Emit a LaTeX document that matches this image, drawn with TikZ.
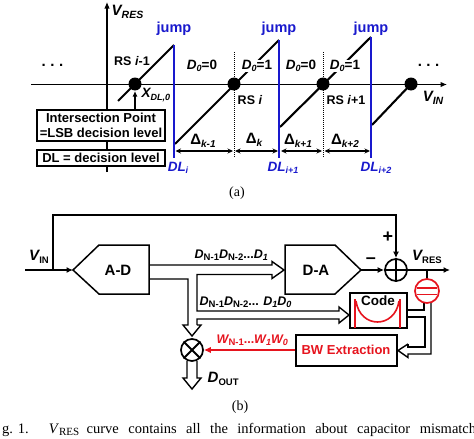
\documentclass[tikz,border=0pt]{standalone}
\usepackage{fontspec}
\setmainfont{Liberation Sans}
\newfontfamily\capfont{Liberation Serif}
\usetikzlibrary{arrows.meta,calc}
\definecolor{myblue}{RGB}{25,25,205}
\definecolor{myred}{RGB}{230,20,30}
\newcommand{\lab}[2]{{\bfseries\itshape #1\raisebox{-.35ex}{\fontsize{9}{9}\selectfont #2}}}
\newcommand{\labb}[2]{{\bfseries\itshape #1\raisebox{-.35ex}{\fontsize{10.5}{9}\selectfont #2}}}
\newcommand{\labu}[2]{{\bfseries\itshape #1\raisebox{-.35ex}{\fontsize{9.5}{9}\selectfont\upshape #2}}}
\newcommand{\dotsrow}{.\hspace{4.5pt}.\hspace{4.5pt}.}
\newcommand{\dlt}[1]{Δ\raisebox{-.35ex}{\fontsize{10}{9}\selectfont\itshape #1}}
\tikzset{
  x=1pt,y=-1pt,
  txt/.style={inner sep=0.5pt,font=\fontsize{12.5}{14}\selectfont\bfseries},
  biglab/.style={inner sep=0.5pt,font=\fontsize{15}{15}\selectfont\bfseries},
  jumplab/.style={inner sep=0.5pt,text=myblue,font=\fontsize{14.5}{15}\selectfont\bfseries},
  dllab/.style={inner sep=0.5pt,text=myblue,font=\fontsize{13.5}{14}\selectfont\bfseries},
  dzero/.style={inner sep=0.5pt,fill=white,font=\fontsize{13.5}{14}\selectfont\bfseries},
  axisline/.style={line width=1.1pt,-{Latex[length=6.5pt,width=5.5pt]}},
  ramp/.style={line width=2.1pt},
  bluev/.style={line width=1.5pt,myblue},
  dotv/.style={line width=1pt,densely dotted},
  dim/.style={line width=1.1pt,{Stealth[length=5.5pt,width=5pt]}-{Stealth[length=5.5pt,width=5pt]}},
  isect/.style={circle,fill=black,minimum size=13pt,inner sep=0pt},
  infobox/.style={draw,line width=1.5pt,fill=white,inner sep=0pt,font=\fontsize{13}{15.5}\selectfont\bfseries,align=center},
  blockline/.style={line width=1.5pt},
  wire/.style={line width=1.4pt},
  wirearrow/.style={line width=1.4pt,-{Latex[length=6.5pt,width=6pt]}},
  hollow/.style={line width=1.4pt,fill=none,line join=miter},
  circ/.style={circle,draw,line width=1.7pt,fill=white,minimum size=22pt,inner sep=0pt},
  rect/.style={draw,line width=1.5pt,inner sep=0pt},
}
\begin{document}
\begin{tikzpicture}
\useasboundingbox (0,0) rectangle (474,439);
\clip (0,0) rectangle (474,439);
% ---------- part (a) ----------
\coordinate (yb) at (107,172); \coordinate (yt) at (107,2);
\coordinate (xl) at (31,84.5); \coordinate (xr) at (447,84.5);
\draw[axisline] (yb) -- (yt);
\draw[axisline] (xl) -- (xr);
\node[isect] (p0) at (135,84) {};
\node[isect] (p1) at (234,84) {};
\node[isect] (p2) at (323,84) {};
\node[isect] (p3) at (411,84) {};
\coordinate (r0a) at (118,101); \coordinate (r0b) at (174,45);
\coordinate (r1a) at (175,144); \coordinate (r1b) at (279,40);
\coordinate (r2a) at (280,127); \coordinate (r2b) at (371,37);
\coordinate (r3a) at (372,125);
\draw[ramp] (r0a) -- (r0b);
\draw[ramp] (r1a) -- (r1b);
\draw[ramp] (r2a) -- (r2b);
\draw[ramp] (r3a) -- (p3.center);
\coordinate (b0) at (174,158); \coordinate (b1) at (279,158); \coordinate (b2) at (371,158);
\draw[bluev] (r0b) -- (b0);
\draw[bluev] (r1b) -- (b1);
\draw[bluev] (r2b) -- (b2);
\coordinate (d1t) at (234,52); \coordinate (d1b) at (234,158);
\coordinate (d2t) at (323,52); \coordinate (d2b) at (323,158);
\draw[dotv] (d1t) -- (d1b);
\draw[dotv] (d2t) -- (d2b);
\coordinate (m0) at (175.5,151); \coordinate (m1) at (233,151);
\coordinate (m2) at (235,151); \coordinate (m3) at (278,151);
\coordinate (m4) at (281,151); \coordinate (m5) at (322,151);
\coordinate (m6) at (324.5,151); \coordinate (m7) at (370,151);
\draw[dim] (m0) -- (m1);
\draw[dim] (m2) -- (m3);
\draw[dim] (m4) -- (m5);
\draw[dim] (m6) -- (m7);
\node[infobox,minimum width=128pt,minimum height=31pt] (ibox) at (101,125.5) {Intersection Point\\=LSB decision level};
\node[infobox,minimum width=128pt,minimum height=16pt] (dlbox) at (101,158) {DL = decision level};
\draw[line width=1.3pt,-{Latex[length=5.5pt,width=5pt]}] (p0 |- ibox.north) -- (135,91);
\node[biglab] (vresa) at (127.5,12) {\labb{V}{RES}};
\node[biglab] (vina) at (433,98) {\labb{V}{IN}};
\node[jumplab] (j0) at (174,29) {jump};
\node[jumplab] (j1) at (279,29) {jump};
\node[jumplab] (j2) at (371,29) {jump};
\node[txt] (rs0) at (132,61) {RS \textit{i}-1};
\node[txt] (rs1) at (250,100) {RS \textit{i}};
\node[txt] (rs2) at (346,100) {RS \textit{i}+1};
\node[dzero] (z0) at (202,66) {\lab{D}{0}=0};
\node[dzero] (z1) at (257,66) {\lab{D}{0}=1};
\node[dzero] (z2) at (301,66) {\lab{D}{0}=0};
\node[dzero] (z3) at (345,66) {\lab{D}{0}=1};
\node[inner sep=0.5pt,font=\fontsize{13.5}{14}\selectfont\bfseries,anchor=west] (xdl) at (141,95) {\lab{X}{DL,0}};
\node[biglab] (dk0) at (203,140.5) {\dlt{k-1}};
\node[biglab] (dk1) at (254,140) {\dlt{k}};
\node[biglab] (dk2) at (298,140.5) {\dlt{k+1}};
\node[biglab] (dk3) at (345,140.5) {\dlt{k+2}};
\node[dllab] (dl0) at (178,168) {\lab{DL}{i}};
\node[dllab] (dl1) at (283,168) {\lab{DL}{i+1}};
\node[dllab] (dl2) at (376,168) {\lab{DL}{i+2}};
\node[biglab] (dotsl) at (52.5,65) {\dotsrow};
\node[biglab] (dotsr) at (428.5,65) {\dotsrow};
\node[font=\capfont\fontsize{14}{14}\selectfont,inner sep=0pt] (capa) at (237,193) {(a)};
% ---------- part (b) ----------
\coordinate (adtip) at (73,270);
\coordinate (datip) at (361,270);
\node[inner sep=0pt,font=\fontsize{15}{15}\selectfont\bfseries] (ad) at (118,270) {A-D};
\node[inner sep=0pt,font=\fontsize{15}{15}\selectfont\bfseries] (da) at (316,270) {D-A};
\draw[blockline] (adtip) -- (99,245) -- (149,245) -- (149,294) -- (99,294) -- cycle;
\draw[blockline] (285,245) -- (335,245) -- (datip) -- (335,294) -- (285,294) -- cycle;
% signal wires
\coordinate (vinl) at (25,270);
\coordinate (fb) at (53,270);
\node[circ] (sum) at (396,270) {};
\draw[line width=1.5pt] (sum.west) -- (sum.east) (sum.north) -- (sum.south);
\node[circ] (mul) at (192,350) {};
\draw[line width=1.8pt] (mul.45) -- (mul.225) (mul.135) -- (mul.315);
\draw[wirearrow] (vinl) -- (adtip);
\draw[wire] (fb) -- (53,215) -- (396,215) -- (396,240);
\draw[wirearrow] (396,240) -- (sum.north);
\draw[wirearrow] (datip) -- (sum.west);
\coordinate (vout) at (450,270);
\draw[wirearrow] (sum.east) -- (vout);
\draw[wire] (427,270) -- (427,280);
% double bus A-D to D-A
\draw[hollow] (149,265) -- (272,265) -- (272,261.5) -- (284,270) -- (272,278.5) -- (272,274.5) -- (197,274.5) -- (197,311) -- (339,311) -- (339,307) -- (349,315) -- (339,323) -- (339,319) -- (197,319) -- (197,325);
% into multiplier
\draw[hollow] (149,279) -- (188,279) -- (188,325) -- (183,325) -- (192,336) -- (201,325) -- (197,325);
\draw[hollow] (187,361) -- (187,378) -- (183,378) -- (192,389) -- (201,378) -- (197,378) -- (197,361);
% boxes
\node[rect,minimum width=57pt,minimum height=35pt] (code) at (378.5,310.5) {};
\node[rect,minimum width=101pt,minimum height=31pt] (bw) at (346.5,350.5) {};
\node[inner sep=0pt,text=myred,font=\fontsize{13}{14}\selectfont\bfseries] (bwt) at (346,350) {BW Extraction};
\node[inner sep=0pt,font=\fontsize{13.5}{14}\selectfont\bfseries] (codet) at (378,301) {Code};
% red W bus
\draw[myred,line width=2pt,-{Latex[length=7pt,width=6.5pt]}] (bw.west |- mul) -- (mul.east);
% Code curve
\draw[myred,line width=1.3pt] (355,299) -- (355,328) (400,299) -- (400,328);
\draw[myred,line width=1.6pt] (356,301) .. controls (360,329) and (395,329) .. (399,301);
% feedback to BW
\draw[wire] (code.east |- 0,310) -- (424,310) -- (424,300);
\draw[hollow] (code.east |- 0,317) -- (425,317) -- (425,347) -- (408,347) -- (408,344);
\draw[hollow] (431,298) -- (431,354) -- (408,354) -- (408,357.5) -- (398,350.5) -- (408,344);
\node[circ,draw=myred,minimum size=24pt] (eq) at (427,291) {};
\draw[myred,line width=1.6pt] (417,288) -- (437,288) (417,294.5) -- (437,294.5);
% bus labels
\node[txt,anchor=west] (b1l) at (194,255) {\labu{D}{N-1}\labu{D}{N-2}...\lab{D}{1}};
\node[txt,anchor=west] (b2l) at (199,302) {\labu{D}{N-1}\labu{D}{N-2}... \lab{D}{1}\lab{D}{0}};
\node[txt,anchor=west,text=myred] (wl) at (216,340) {\labu{W}{N-1}...\lab{W}{1}\lab{W}{0}};
\node[biglab,anchor=west] (dout) at (207,379) {\labu{D}{OUT}};
\node[biglab] (vinb) at (39,257) {\labu{V}{IN}};
\node[biglab] (vresb) at (427,257) {\labu{V}{RES}};
\node[inner sep=0pt,font=\fontsize{18}{18}\selectfont\bfseries] (plus) at (388,237) {+};
\node[inner sep=0pt,font=\fontsize{18}{18}\selectfont\bfseries] (minus) at (371,261) {–};
\node[font=\capfont\fontsize{14}{14}\selectfont,inner sep=0pt] (capb) at (240,407) {(b)};
% caption
\node[anchor=base west,inner sep=0pt,font=\capfont\fontsize{14.5}{14}\selectfont] (figcap) at (2,433) {g. 1.\hspace{20pt}\textit{V}\raisebox{-.35ex}{\fontsize{11}{9}\selectfont RES}\hspace{7.5pt}curve\hspace{9.5pt}contains\hspace{9.5pt}all\hspace{9.5pt}the\hspace{9.5pt}information\hspace{9.5pt}about\hspace{9.5pt}capacitor\hspace{9.5pt}mismatch};
\end{tikzpicture}
\end{document}
